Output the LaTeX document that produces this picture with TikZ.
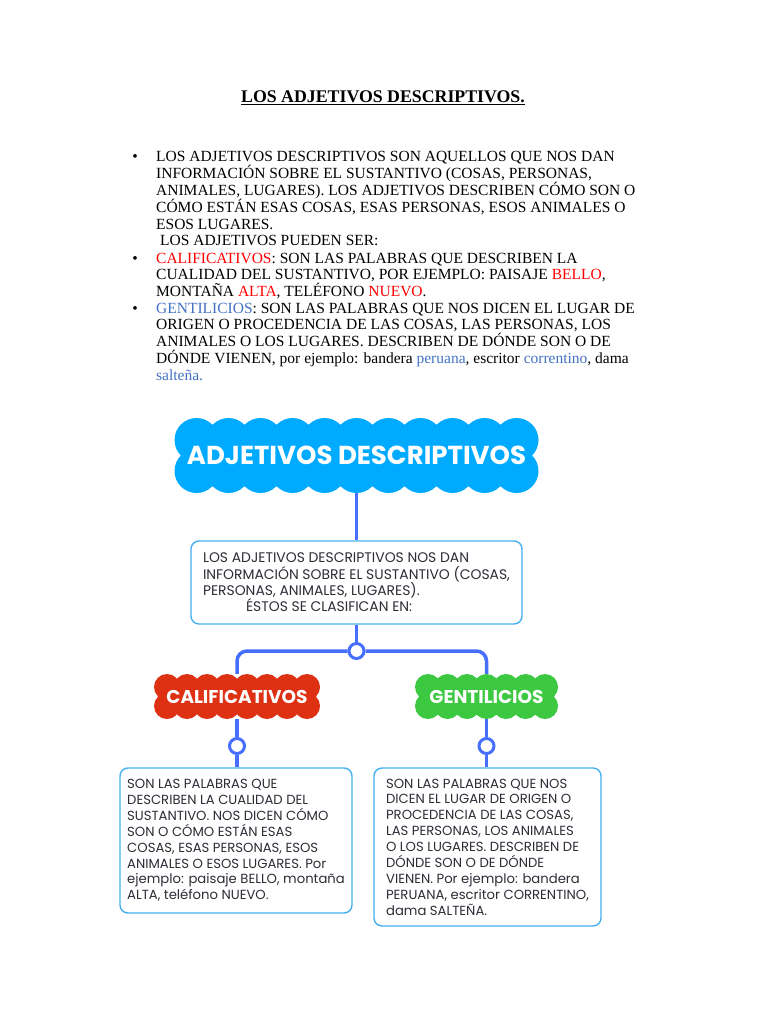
\documentclass[tikz,border=0pt]{standalone}
\usepackage{fontspec}
\setmainfont{Liberation Serif}
\newfontfamily\mapfont{Poppins}
\usepackage{tikz}
\usetikzlibrary{positioning, calc}
\usepackage{xcolor}
\definecolor{skyfill}{RGB}{0,170,255}
\definecolor{califred}{RGB}{222,48,18}
\definecolor{gentgreen}{RGB}{60,200,64}
\definecolor{linkblue}{RGB}{70,110,255}
\definecolor{boxblue}{RGB}{70,175,240}
\definecolor{boxtext}{RGB}{45,45,55}
\definecolor{wordred}{RGB}{255,0,0}
\definecolor{wordblue}{RGB}{68,114,196}

\newcommand{\puffnode}[9]{%
  \fill[#2] ({#3-(#5-1)*#6/2},{#4-#8}) rectangle ({#3+(#5-1)*#6/2},{#4+#8});
  \fill[#2] foreach \k in {1,...,#5} {
    ({#3+(\k-(#5+1)/2)*#6},{#4-#8}) circle[radius=#7]
    ({#3+(\k-(#5+1)/2)*#6},{#4+#8}) circle[radius=#7]};
  \node[puff text, minimum width={(#5-1)*#6+2*#7}, minimum height={2*(#7+#8)}] (#1) at (#3,#4) {#9};
}

\begin{document}
\begin{tikzpicture}[
    x=1pt, y=-1pt,
    body text/.style={align=left, inner sep=0pt, font=\fontsize{15.5}{16.75}\selectfont},
    puff text/.style={inner sep=0pt, text=white, font=\mapfont\bfseries},
    info box/.style={draw=boxblue, line width=1.4pt, rounded corners=8pt, fill=white,
                     align=left, inner sep=0pt, text=boxtext},
    link/.style={draw=linkblue, line width=3.5pt},
    joint/.style={circle, draw=linkblue, line width=3pt, fill=white,
                  inner sep=0pt, minimum size=15pt}
]
\path[use as bounding box, fill=white] (0,0) rectangle (768,1024);

\node[anchor=base, font=\fontsize{17.8}{20}\selectfont\bfseries] (title) at (383,103)
  {\underline{LOS ADJETIVOS DESCRIPTIVOS.}};

\node[body text, anchor=base west] (para1) at (156,245.75)
  {LOS ADJETIVOS DESCRIPTIVOS SON AQUELLOS QUE NOS DAN\\
   INFORMACIÓN SOBRE EL SUSTANTIVO (COSAS, PERSONAS,\\
   ANIMALES, LUGARES). LOS ADJETIVOS DESCRIBEN CÓMO SON O\\
   CÓMO ESTÁN ESAS COSAS, ESAS PERSONAS, ESOS ANIMALES O\\
   ESOS LUGARES.\\
   \hspace*{4pt}LOS ADJETIVOS PUEDEN SER:};
\node[body text, anchor=base west] (para2) at (156,296.5)
  {\textcolor{wordred}{CALIFICATIVOS}: SON LAS PALABRAS QUE DESCRIBEN LA\\
   CUALIDAD DEL SUSTANTIVO, POR EJEMPLO: PAISAJE \textcolor{wordred}{BELLO},\\
   MONTAÑA \textcolor{wordred}{ALTA}, TELÉFONO \textcolor{wordred}{NUEVO}.};
\node[body text, anchor=base west] (para3) at (156,380)
  {\textcolor{wordblue}{GENTILICIOS}: SON LAS PALABRAS QUE NOS DICEN EL LUGAR DE\\
   ORIGEN O PROCEDENCIA DE LAS COSAS, LAS PERSONAS, LOS\\
   ANIMALES O LOS LUGARES. DESCRIBEN DE DÓNDE SON O DE\\
   DÓNDE VIENEN, por ejemplo: bandera \textcolor{wordblue}{peruana}, escritor \textcolor{wordblue}{correntino}, dama\\
   \textcolor{wordblue}{salteña.}};
\foreach \y [count=\i] in {162,263,313}
  \node[body text, anchor=base] (dot\i) at (135,\y) {\textbullet};

\puffnode{root}{skyfill}{356.5}{455.5}{11}{32}{22}{15.5}{\fontsize{26}{30}\selectfont ADJETIVOS DESCRIPTIVOS}
\puffnode{calif}{califred}{237}{696.5}{8}{20}{13}{9.5}{\fontsize{18.5}{21}\selectfont CALIFICATIVOS}
\puffnode{gentil}{gentgreen}{486.5}{696.5}{7}{19.5}{13}{9.5}{\fontsize{18.5}{21}\selectfont GENTILICIOS}

\node[info box, minimum width=331, minimum height=83,
      font=\mapfont\fontsize{13.9}{16.3}\selectfont] (intro) at (356.5,582.5)
  {LOS ADJETIVOS DESCRIPTIVOS NOS DAN\\
   INFORMACIÓN SOBRE EL SUSTANTIVO (COSAS,\\
   PERSONAS, ANIMALES, LUGARES).\\
   \hspace*{43pt}ÉSTOS SE CLASIFICAN EN:};

\node[joint] (split) at (356.5,651) {};
\node[joint] (califdot) at (237,746) {};
\node[joint] (gentdot) at (486.5,746) {};

\node[info box, minimum width=232, minimum height=145,
      font=\mapfont\fontsize{13.2}{15.9}\selectfont] (califbox) at (236,840.5)
  {SON LAS PALABRAS QUE\\
   DESCRIBEN LA CUALIDAD DEL\\
   SUSTANTIVO. NOS DICEN CÓMO\\
   SON O CÓMO ESTÁN ESAS\\
   COSAS, ESAS PERSONAS, ESOS\\
   ANIMALES O ESOS LUGARES. Por\\
   ejemplo: paisaje BELLO, montaña\\
   ALTA, teléfono NUEVO.};
\node[info box, minimum width=227, minimum height=158,
      font=\mapfont\fontsize{13.2}{15.9}\selectfont] (gentbox) at (487.5,847)
  {SON LAS PALABRAS QUE NOS\\
   DICEN EL LUGAR DE ORIGEN O\\
   PROCEDENCIA DE LAS COSAS,\\
   LAS PERSONAS, LOS ANIMALES\\
   O LOS LUGARES. DESCRIBEN DE\\
   DÓNDE SON O DE DÓNDE\\
   VIENEN. Por ejemplo: bandera\\
   PERUANA, escritor CORRENTINO,\\
   dama SALTEÑA.};

\draw[link] (root) -- (intro);
\draw[link] (intro) -- (split);
\draw[link, rounded corners=10pt] (split) -| (calif);
\draw[link, rounded corners=10pt] (split) -| (gentil);
\draw[link] (calif) -- (califdot);
\draw[link] (gentil) -- (gentdot);
\draw[link] (califdot) -- (califdot |- califbox.north);
\draw[link] (gentdot) -- (gentdot |- gentbox.north);
\end{tikzpicture}
\end{document}
